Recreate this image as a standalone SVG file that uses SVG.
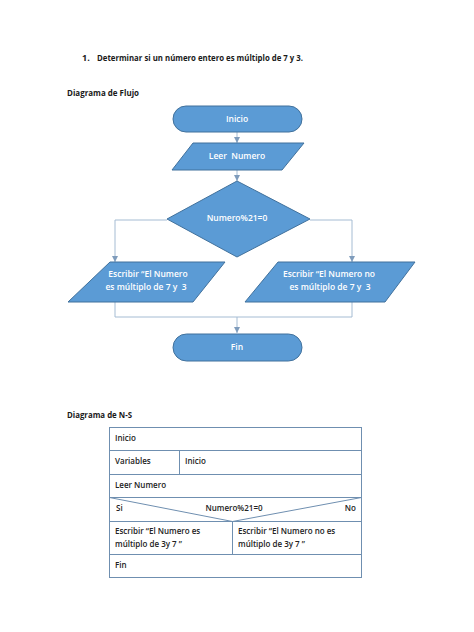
<svg xmlns="http://www.w3.org/2000/svg" width="474" height="632" viewBox="0 0 474 632">
<style>
.bg{fill:#ffffff}
.shape{fill:#5b9bd5;stroke:#41719c;stroke-width:1}
.ntext{font-family:"Open Sans","Liberation Sans",sans-serif;font-size:8.5px;font-weight:600;fill:#ffffff;text-anchor:middle;white-space:pre}
.conn{fill:none;stroke:#a5bcd3;stroke-width:1}
.doc{font-family:"Open Sans","Liberation Sans",sans-serif;font-weight:bold;fill:#1a1a1a}
.cell{fill:none;stroke:#6f8fb0;stroke-width:1}
.ctext{font-family:"Open Sans","Liberation Sans",sans-serif;font-size:8px;font-weight:600;fill:#222222}
</style>
<defs>
<marker id="arr" viewBox="0 0 6 6" refX="6" refY="3" markerWidth="6" markerHeight="6" orient="auto" markerUnits="userSpaceOnUse">
<path d="M0,0 L6,3 L0,6 z" fill="#7f9cbc"/>
</marker>
</defs>
<rect class="bg" x="0" y="0" width="474" height="632"/>
<g id="texts">
<text class="doc" x="82" y="61" font-size="9">1.</text>
<text class="doc" x="97" y="61" font-size="9" textLength="206" lengthAdjust="spacingAndGlyphs">Determinar si un número entero es múltiplo de 7 y 3.</text>
<text class="doc" x="67" y="96" font-size="9" textLength="72" lengthAdjust="spacingAndGlyphs">Diagrama de Flujo</text>
<text class="doc" x="67" y="418" font-size="9" textLength="65" lengthAdjust="spacingAndGlyphs">Diagrama de N-S</text>
</g>
<g id="connectors">
<line class="conn" x1="237" y1="132" x2="237" y2="143" marker-end="url(#arr)"/>
<line class="conn" x1="237" y1="170" x2="237" y2="181" marker-end="url(#arr)"/>
<polyline class="conn" points="167,220 115,220 115,262" marker-end="url(#arr)"/>
<polyline class="conn" points="310,220 352,220 352,262" marker-end="url(#arr)"/>
<polyline class="conn" points="115,302 115,317 352,317 352,302"/>
<line class="conn" x1="237" y1="317" x2="237" y2="333" marker-end="url(#arr)"/>
</g>
<g id="inicio">
<rect class="shape" x="173" y="106" width="129" height="26" rx="13" ry="13"/>
<text class="ntext" x="237" y="122">Inicio</text>
</g>
<g id="leer">
<polygon class="shape" points="193,143 304,143 282,170 172,170"/>
<text class="ntext" x="237" y="159">Leer  Numero</text>
</g>
<g id="decision">
<polygon class="shape" points="237,181 310,219 237,257 167,219"/>
<text class="ntext" x="237" y="221">Numero%21=0</text>
</g>
<g id="escribir-si">
<polygon class="shape" points="110,262 225,262 193,302 68,302"/>
<text class="ntext" x="148" y="277">Escribir “El Numero</text>
<text class="ntext" x="146" y="290">es múltiplo de 7 y  3</text>
</g>
<g id="escribir-no">
<polygon class="shape" points="278,262 415,262 385,302 245,302"/>
<text class="ntext" x="329" y="277">Escribir “El Numero no</text>
<text class="ntext" x="330" y="290">es múltiplo de 7 y  3</text>
</g>
<g id="fin">
<rect class="shape" x="173" y="334" width="129" height="27" rx="13.5" ry="13.5"/>
<text class="ntext" x="237" y="350">Fin</text>
</g>
<g id="ns-diagram">
<rect class="cell" x="109.5" y="427.5" width="252" height="150"/>
<line class="cell" x1="109.5" y1="450.5" x2="361.5" y2="450.5"/>
<line class="cell" x1="179.5" y1="450.5" x2="179.5" y2="474.5"/>
<line class="cell" x1="109.5" y1="474.5" x2="361.5" y2="474.5"/>
<line class="cell" x1="109.5" y1="497.5" x2="361.5" y2="497.5"/>
<line class="cell" x1="109.5" y1="497.5" x2="232.5" y2="521.5"/>
<line class="cell" x1="361.5" y1="497.5" x2="232.5" y2="521.5"/>
<line class="cell" x1="109.5" y1="521.5" x2="361.5" y2="521.5"/>
<line class="cell" x1="232.5" y1="521.5" x2="232.5" y2="554.5"/>
<line class="cell" x1="109.5" y1="554.5" x2="361.5" y2="554.5"/>
<text class="ctext" x="115" y="441">Inicio</text>
<text class="ctext" x="115" y="464">Variables</text>
<text class="ctext" x="185" y="464">Inicio</text>
<text class="ctext" x="115" y="488">Leer Numero</text>
<text class="ctext" x="116" y="511">Si</text>
<text class="ctext" x="234" y="511" text-anchor="middle">Numero%21=0</text>
<text class="ctext" x="356" y="511" text-anchor="end">No</text>
<text class="ctext" x="115" y="534">Escribir “El Numero es</text>
<text class="ctext" x="115" y="547">múltiplo de 3y 7 ”</text>
<text class="ctext" x="238" y="534">Escribir “El Numero no es</text>
<text class="ctext" x="238" y="547">múltiplo de 3y 7 ”</text>
<text class="ctext" x="115" y="568">Fin</text>
</g>
</svg>
